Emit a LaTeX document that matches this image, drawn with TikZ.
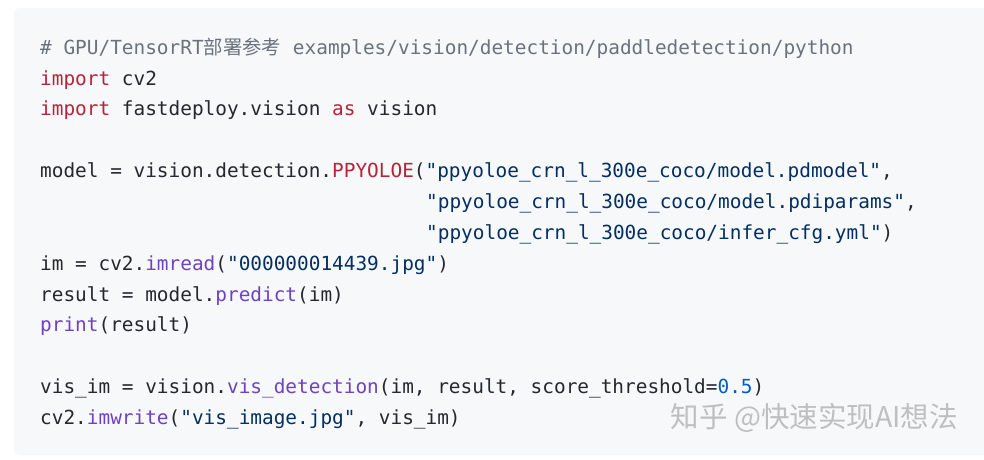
\documentclass[tikz,border=0pt]{standalone}
\usepackage{fontspec}
\setmonofont{DejaVu Sans Mono}
\newfontfamily\cjk{Noto Sans CJK SC}
\definecolor{bgc}{HTML}{F6F8FA}
\definecolor{kw}{HTML}{B3263A}
\definecolor{fn}{HTML}{6F42C1}
\definecolor{st}{HTML}{032F62}
\definecolor{nm}{HTML}{005CC5}
\definecolor{cm}{HTML}{6A737D}
\definecolor{tx}{HTML}{24292E}
\newcommand{\K}[1]{{\color{kw}#1}}
\newcommand{\F}[1]{{\color{fn}#1}}
\newcommand{\Sx}[1]{{\color{st}#1}}
\newcommand{\N}[1]{{\color{nm}#1}}
\begin{document}
\begin{tikzpicture}[x=1pt,y=-1pt,
  code/.style={anchor=base west,inner sep=0pt,text=tx,font=\ttfamily\fontsize{19.4}{22}\selectfont}]
\useasboundingbox (0,0) rectangle (984,459);
\fill[white] (0,0) rectangle (984,459);
\fill[bgc,rounded corners=6pt] (14,8) rectangle (990,455);
\node[code] (l1) at (40,54) {\color{cm}\# GPU/TensorRT{\cjk\fontsize{19.4}{22}\selectfont 部署参考} examples/vision/detection/paddledetection/python};
\node[code] (l2) at (40,85) {\K{import} cv2};
\node[code] (l3) at (40,115) {\K{import} fastdeploy.vision \K{as} vision};
\node[code] (l5) at (40,177) {model = vision.detection.\K{PPYOLOE}(\Sx{"ppyoloe\_crn\_l\_300e\_coco/model.pdmodel"},};
\node[code] (l6) at (426,208) {\Sx{"ppyoloe\_crn\_l\_300e\_coco/model.pdiparams"},};
\node[code] (l7) at (426,239) {\Sx{"ppyoloe\_crn\_l\_300e\_coco/infer\_cfg.yml"})};
\node[code] (l8) at (40,270) {im = cv2.\F{imread}(\Sx{"000000014439.jpg"})};
\node[code] (l9) at (40,301) {result = model.\F{predict}(im)};
\node[code] (l10) at (40,331) {\F{print}(result)};
\node[code] (l12) at (40,393) {vis\_im = vision.\F{vis\_detection}(im, result, score\_threshold=\N{0.5})};
\node[code] (l13) at (40,424) {cv2.\F{imwrite}(\Sx{"vis\_image.jpg"}, vis\_im)};
\node[anchor=east,inner sep=0pt,text=black!25,font=\cjk\fontsize{28.5}{30}\selectfont] (wm) at (958,418) {知乎 @快速实现AI想法};
\end{tikzpicture}
\end{document}
